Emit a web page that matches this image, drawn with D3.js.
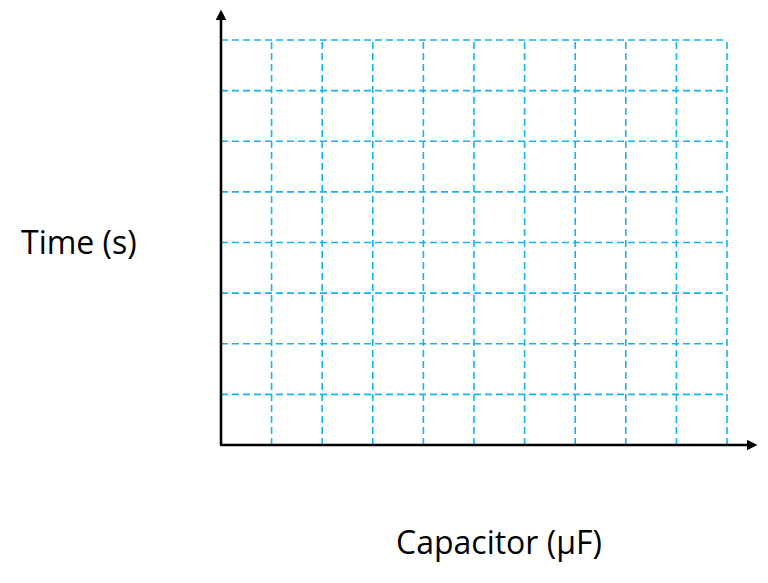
<!DOCTYPE html>
<html>
<head>
<meta charset="utf-8">
<script src="https://d3js.org/d3.v7.min.js"></script>
<style>
  body { margin: 0; background: #fff; }
</style>
</head>
<body>
<div class="canvas"></div>
<script>
// grid divisions (empty graph paper, no data series)
var xTicks = [0, 1, 2, 3, 4, 5, 6, 7, 8, 9, 10];
var yTicks = [0, 1, 2, 3, 4, 5, 6, 7, 8];
var xLabel = "Capacitor (μF)";
var yLabel = "Time (s)";

var width = 768, height = 583;
var plot = { left: 221, right: 727, top: 40, bottom: 445 };

var svg = d3.select(".canvas").append("svg")
    .attr("width", width)
    .attr("height", height);

var x = d3.scaleLinear().domain([0, d3.max(xTicks)]).range([plot.left, plot.right]);
var y = d3.scaleLinear().domain([0, d3.max(yTicks)]).range([plot.bottom, plot.top]);

var gridColor = "#12b4f4";

// vertical grid lines
svg.append("g")
    .selectAll("line")
    .data(xTicks.filter(d => d > 0))
    .join("line")
    .attr("x1", d => x(d))
    .attr("x2", d => x(d))
    .attr("y1", y(0))
    .attr("y2", y(d3.max(yTicks)))
    .attr("stroke", gridColor)
    .attr("stroke-width", 1.6)
    .attr("stroke-dasharray", "7,4");

// horizontal grid lines
svg.append("g")
    .selectAll("line")
    .data(yTicks.filter(d => d > 0))
    .join("line")
    .attr("x1", x(0))
    .attr("x2", x(d3.max(xTicks)))
    .attr("y1", d => y(d))
    .attr("y2", d => y(d))
    .attr("stroke", gridColor)
    .attr("stroke-width", 1.6)
    .attr("stroke-dasharray", "7,4");

// arrow heads
var defs = svg.append("defs");
defs.append("marker")
    .attr("id", "arrow")
    .attr("viewBox", "0 0 10 10")
    .attr("refX", 0)
    .attr("refY", 5)
    .attr("markerWidth", 4)
    .attr("markerHeight", 4)
    .attr("markerUnits", "strokeWidth")
    .attr("orient", "auto")
    .append("path")
    .attr("d", "M0,0 L10,5 L0,10 Z")
    .attr("fill", "#000");

// axes
svg.append("line")
    .attr("x1", x(0))
    .attr("y1", y(0))
    .attr("x2", x(0))
    .attr("y2", 20)
    .attr("stroke", "#000")
    .attr("stroke-width", 2.6)
    .attr("marker-end", "url(#arrow)");

svg.append("line")
    .attr("x1", x(0) - 1)
    .attr("y1", y(0))
    .attr("x2", 747)
    .attr("y2", y(0))
    .attr("stroke", "#000")
    .attr("stroke-width", 2.6)
    .attr("marker-end", "url(#arrow)");

// axis titles
svg.append("text")
    .attr("x", 21)
    .attr("y", 254)
    .text(yLabel)
    .attr("font-family", "Open Sans")
    .attr("font-size", "32px")
    .attr("fill", "#000");

svg.append("text")
    .attr("x", 396)
    .attr("y", 554)
    .text(xLabel)
    .attr("font-family", "Open Sans")
    .attr("font-size", "32px")
    .attr("fill", "#000");
</script>
</body>
</html>
